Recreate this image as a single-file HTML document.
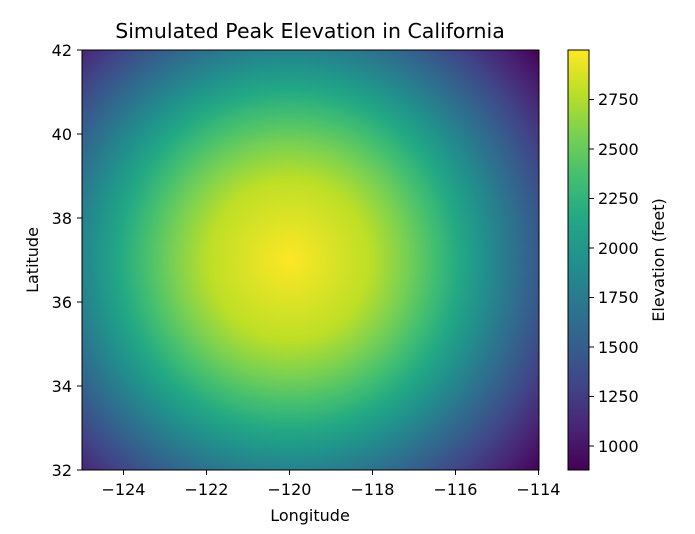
<!DOCTYPE html>
<html><head><style>body{margin:0;background:#fff}svg text{font-family:"DejaVu Sans","Liberation Sans",sans-serif;fill:#000}</style></head>
<body>
<svg width="695" height="529" xmlns="http://www.w3.org/2000/svg">
<defs>
<radialGradient id="g" gradientUnits="userSpaceOnUse" cx="289.5" cy="260" r="327" fx="289.5" fy="260">
<stop offset="0" stop-color="#fde725"/>
<stop offset="0.245" stop-color="#bddf26"/>
<stop offset="0.352" stop-color="#7ad151"/>
<stop offset="0.441" stop-color="#44bf70"/>
<stop offset="0.521" stop-color="#22a884"/>
<stop offset="0.596" stop-color="#21918c"/>
<stop offset="0.670" stop-color="#2a788e"/>
<stop offset="0.746" stop-color="#355f8d"/>
<stop offset="0.824" stop-color="#414487"/>
<stop offset="0.908" stop-color="#482475"/>
<stop offset="1" stop-color="#440154"/>
</radialGradient>
<linearGradient id="cb" x1="0" y1="1" x2="0" y2="0">
<stop offset="0" stop-color="#440154"/>
<stop offset="0.1" stop-color="#482475"/>
<stop offset="0.2" stop-color="#414487"/>
<stop offset="0.3" stop-color="#355f8d"/>
<stop offset="0.4" stop-color="#2a788e"/>
<stop offset="0.5" stop-color="#21918c"/>
<stop offset="0.6" stop-color="#22a884"/>
<stop offset="0.7" stop-color="#44bf70"/>
<stop offset="0.8" stop-color="#7ad151"/>
<stop offset="0.9" stop-color="#bddf26"/>
<stop offset="1" stop-color="#fde725"/>
</linearGradient>
</defs>
<text x="310" y="38" font-size="20.5" text-anchor="middle">Simulated Peak Elevation in California</text>
<rect x="82" y="50" width="457" height="420" fill="url(#g)"/>
<rect x="82" y="50" width="457" height="420" fill="none" stroke="#000" stroke-width="1"/>
<g stroke="#000" stroke-width="1">
<line x1="123.5" y1="470" x2="123.5" y2="475"/><line x1="206.5" y1="470" x2="206.5" y2="475"/><line x1="289.5" y1="470" x2="289.5" y2="475"/><line x1="372.5" y1="470" x2="372.5" y2="475"/><line x1="455.5" y1="470" x2="455.5" y2="475"/><line x1="538.5" y1="470" x2="538.5" y2="475"/>
<line x1="77" y1="50" x2="82" y2="50"/><line x1="77" y1="134" x2="82" y2="134"/><line x1="77" y1="218" x2="82" y2="218"/><line x1="77" y1="302" x2="82" y2="302"/><line x1="77" y1="386" x2="82" y2="386"/><line x1="77" y1="470" x2="82" y2="470"/>
</g>
<g font-size="16" text-anchor="middle">
<text x="123.5" y="495">−124</text><text x="206.5" y="495">−122</text><text x="289.5" y="495">−120</text><text x="372.5" y="495">−118</text><text x="455.5" y="495">−116</text><text x="538.5" y="495">−114</text>
</g>
<g font-size="16" text-anchor="end">
<text x="72" y="56">42</text><text x="72" y="140">40</text><text x="72" y="224">38</text><text x="72" y="308">36</text><text x="72" y="392">34</text><text x="72" y="476">32</text>
</g>
<text x="310" y="521" font-size="16" text-anchor="middle">Longitude</text>
<text transform="translate(38,260) rotate(-90)" font-size="16" text-anchor="middle">Latitude</text>
<rect x="568" y="50" width="21" height="420" fill="url(#cb)" stroke="#000" stroke-width="1"/>
<g stroke="#000"><line x1="589" y1="99.5" x2="594" y2="99.5"/><line x1="589" y1="149" x2="594" y2="149"/><line x1="589" y1="198.5" x2="594" y2="198.5"/><line x1="589" y1="248" x2="594" y2="248"/><line x1="589" y1="297.5" x2="594" y2="297.5"/><line x1="589" y1="347" x2="594" y2="347"/><line x1="589" y1="396.5" x2="594" y2="396.5"/><line x1="589" y1="446" x2="594" y2="446"/></g>
<g font-size="16">
<text x="598" y="105">2750</text><text x="598" y="155">2500</text><text x="598" y="204">2250</text><text x="598" y="254">2000</text><text x="598" y="303">1750</text><text x="598" y="353">1500</text><text x="598" y="402">1250</text><text x="598" y="452">1000</text>
</g>
<text transform="translate(664,260) rotate(-90)" font-size="16" text-anchor="middle">Elevation (feet)</text>
</svg>
</body></html>
